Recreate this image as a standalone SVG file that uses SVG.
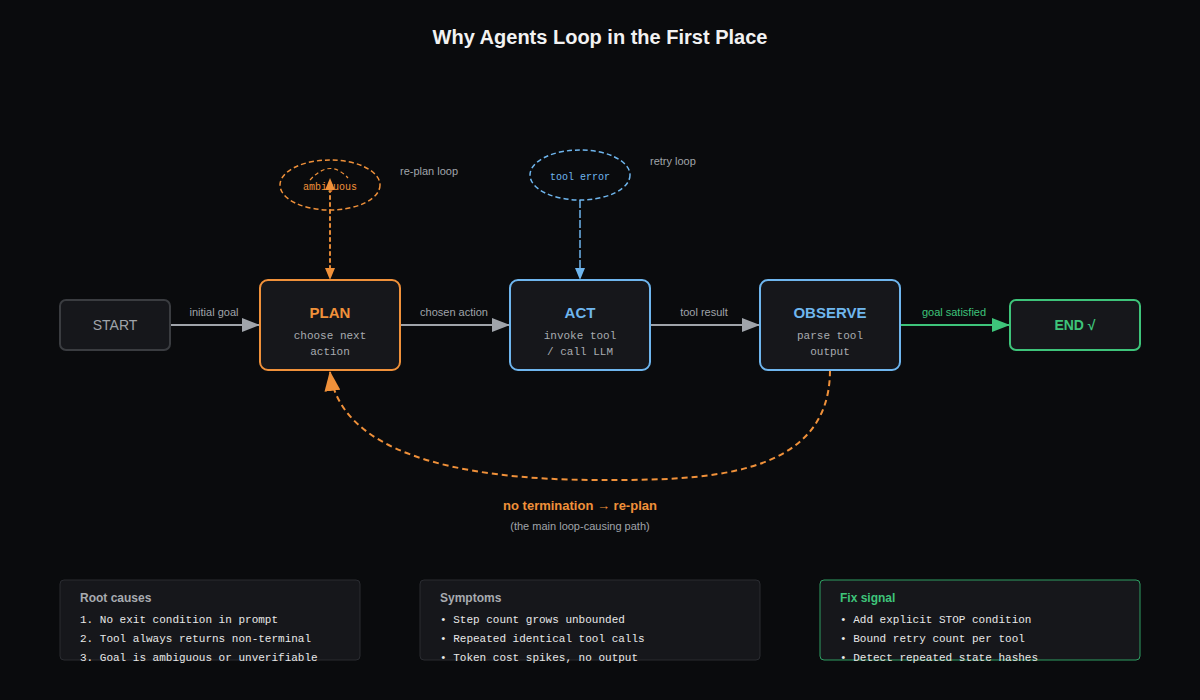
<svg xmlns="http://www.w3.org/2000/svg" width="1200" height="700" viewBox="0 0 1200 700">
<style>
.sans{font-family:"Liberation Sans",Arial,sans-serif}
.mono{font-family:"Liberation Mono","DejaVu Sans Mono",monospace}
.node{fill:#16171b;stroke-width:2}
.lbl{font-size:11px;fill:#a0a4aa}
.sub{font-size:11px;fill:#a8abb0}
.card{fill:#16171b;stroke:#2a2c31;stroke-width:1}
.ct{font-size:12px;font-weight:bold;fill:#a8abb0}
.cl{font-size:11px;fill:#e8e8e8}
</style>
<defs>
<marker id="ag" markerWidth="18" markerHeight="14" refX="17" refY="7" orient="auto" markerUnits="userSpaceOnUse" viewBox="0 0 18 14"><path d="M0,0L18,7L0,14z" fill="#a0a4aa"/></marker>
<marker id="agr" markerWidth="18" markerHeight="14" refX="17" refY="7" orient="auto" markerUnits="userSpaceOnUse" viewBox="0 0 18 14"><path d="M0,0L18,7L0,14z" fill="#3ec47a"/></marker>
<marker id="ao" markerWidth="12" markerHeight="10" refX="11" refY="5" orient="auto" markerUnits="userSpaceOnUse" viewBox="0 0 12 10"><path d="M0,0L12,5L0,10z" fill="#f0913a"/></marker>
<marker id="aoB" markerWidth="20" markerHeight="16" refX="19" refY="8" orient="auto" markerUnits="userSpaceOnUse" viewBox="0 0 20 16"><path d="M0,0L20,8L0,16z" fill="#f0913a"/></marker>
<marker id="ab" markerWidth="12" markerHeight="10" refX="11" refY="5" orient="auto" markerUnits="userSpaceOnUse" viewBox="0 0 12 10"><path d="M0,0L12,5L0,10z" fill="#6fb6ee"/></marker>
</defs>
<rect width="1200" height="700" fill="#0a0b0d"/>
<text x="600" y="44" text-anchor="middle" class="sans" font-size="20" font-weight="bold" fill="#f2f2f2">Why Agents Loop in the First Place</text>

<g id="connectors" fill="none">
<line x1="170" y1="325" x2="259" y2="325" stroke="#a0a4aa" stroke-width="2" marker-end="url(#ag)"/>
<line x1="400" y1="325" x2="509" y2="325" stroke="#a0a4aa" stroke-width="2" marker-end="url(#ag)"/>
<line x1="650" y1="325" x2="759" y2="325" stroke="#a0a4aa" stroke-width="2" marker-end="url(#ag)"/>
<line x1="900" y1="325" x2="1009" y2="325" stroke="#3ec47a" stroke-width="2" marker-end="url(#agr)"/>
<line x1="330" y1="195" x2="330" y2="279" stroke="#f0913a" stroke-width="1.5" stroke-dasharray="4,3" marker-end="url(#ao)"/>
<line x1="330" y1="270" x2="330" y2="179" stroke="#f0913a" stroke-width="1.5" stroke-dasharray="4,3" marker-end="url(#ao)"/>
<path d="M310,180 Q330,158 348,178" stroke="#f0913a" stroke-width="1.2" stroke-dasharray="4,3"/>
<line x1="580" y1="200" x2="580" y2="279" stroke="#6fb6ee" stroke-width="1.5" stroke-dasharray="8,2" marker-end="url(#ab)"/>
<path d="M830,370 C830,480 700,480 600,480 C450,480 340,450 330,372" stroke="#f0913a" stroke-width="2" stroke-dasharray="6,4" marker-end="url(#aoB)"/>
<text x="214" y="316" text-anchor="middle" class="sans lbl" stroke="none">initial goal</text>
<text x="454" y="316" text-anchor="middle" class="sans lbl" stroke="none">chosen action</text>
<text x="704" y="316" text-anchor="middle" class="sans lbl" stroke="none">tool result</text>
<text x="954" y="316" text-anchor="middle" class="sans" font-size="11" fill="#3ec47a" stroke="none">goal satisfied</text>
<text x="400" y="175" class="sans lbl" stroke="none">re-plan loop</text>
<text x="650" y="165" class="sans lbl" stroke="none">retry loop</text>
<text x="580" y="510" text-anchor="middle" class="sans" font-size="13" font-weight="bold" fill="#f0913a" stroke="none">no termination → re-plan</text>
<text x="580" y="530" text-anchor="middle" class="sans lbl" stroke="none">(the main loop-causing path)</text>
</g>

<g id="ambiguous"><ellipse cx="330" cy="185" rx="50" ry="25" fill="none" stroke="#f0913a" stroke-width="1.5" stroke-dasharray="5,3"/><text x="330" y="190" text-anchor="middle" class="mono" font-size="10" fill="#f0913a">ambiguous</text></g>
<g id="toolerror"><ellipse cx="580" cy="175" rx="50" ry="25" fill="none" stroke="#6fb6ee" stroke-width="1.5" stroke-dasharray="5,3"/><text x="580" y="180" text-anchor="middle" class="mono" font-size="10" fill="#6fb6ee">tool error</text></g>

<g id="start"><rect x="60" y="300" width="110" height="50" rx="6" class="node" stroke="#3a3c40"/><text x="115" y="330" text-anchor="middle" class="sans" font-size="14" fill="#a0a4aa">START</text></g>
<g id="plan"><rect x="260" y="280" width="140" height="90" rx="8" class="node" stroke="#f0913a"/><text x="330" y="318" text-anchor="middle" class="sans" font-size="15" font-weight="bold" fill="#f0913a">PLAN</text><text x="330" y="339" text-anchor="middle" class="mono sub">choose next</text><text x="330" y="355" text-anchor="middle" class="mono sub">action</text></g>
<g id="act"><rect x="510" y="280" width="140" height="90" rx="8" class="node" stroke="#6fb6ee"/><text x="580" y="318" text-anchor="middle" class="sans" font-size="15" font-weight="bold" fill="#6fb6ee">ACT</text><text x="580" y="339" text-anchor="middle" class="mono sub">invoke tool</text><text x="580" y="355" text-anchor="middle" class="mono sub">/ call LLM</text></g>
<g id="observe"><rect x="760" y="280" width="140" height="90" rx="8" class="node" stroke="#6fb6ee"/><text x="830" y="318" text-anchor="middle" class="sans" font-size="15" font-weight="bold" fill="#6fb6ee">OBSERVE</text><text x="830" y="339" text-anchor="middle" class="mono sub">parse tool</text><text x="830" y="355" text-anchor="middle" class="mono sub">output</text></g>
<g id="end"><rect x="1010" y="300" width="130" height="50" rx="6" class="node" stroke="#3ec47a"/><text x="1075" y="330" text-anchor="middle" class="sans" font-size="14" font-weight="bold" fill="#3ec47a">END √</text></g>

<g id="rootcauses"><rect x="60" y="580" width="300" height="80" rx="4" class="card"/><text x="80" y="602" class="sans ct">Root causes</text><text x="80" y="623" class="mono cl">1. No exit condition in prompt</text><text x="80" y="642" class="mono cl">2. Tool always returns non-terminal</text><text x="80" y="661" class="mono cl">3. Goal is ambiguous or unverifiable</text></g>
<g id="symptoms"><rect x="420" y="580" width="340" height="80" rx="4" class="card"/><text x="440" y="602" class="sans ct">Symptoms</text><text x="440" y="623" class="mono cl">• Step count grows unbounded</text><text x="440" y="642" class="mono cl">• Repeated identical tool calls</text><text x="440" y="661" class="mono cl">• Token cost spikes, no output</text></g>
<g id="fix"><rect x="820" y="580" width="320" height="80" rx="4" class="card" style="stroke:#2f9e63"/><text x="840" y="602" class="sans ct" style="fill:#3ec47a">Fix signal</text><text x="840" y="623" class="mono cl">• Add explicit STOP condition</text><text x="840" y="642" class="mono cl">• Bound retry count per tool</text><text x="840" y="661" class="mono cl">• Detect repeated state hashes</text></g>
</svg>
